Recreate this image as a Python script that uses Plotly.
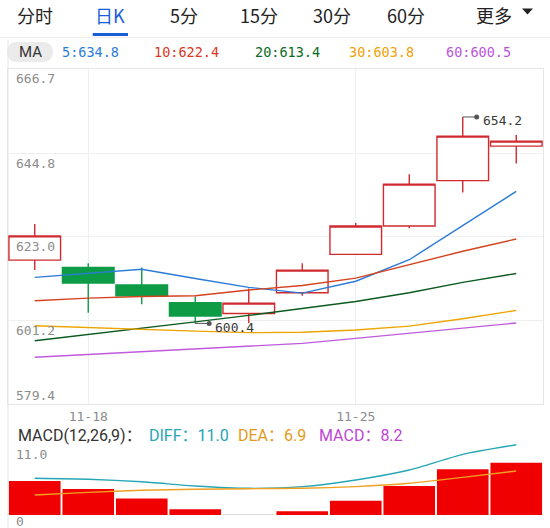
import plotly.graph_objects as go

W, H = 550, 528

# ---------------------------------------------------------------------------
# Data (daily K line, 10 sessions)
# ---------------------------------------------------------------------------
dates = ["11-15", "11-18", "11-19", "11-20", "11-21",
         "11-22", "11-25", "11-26", "11-27", "11-28"]
opens = [616.9, 615.0, 610.4, 605.8, 603.0, 608.4, 618.4, 625.8, 637.6, 646.6]
closes = [623.2, 610.9, 607.6, 602.3, 605.7, 614.3, 625.8, 636.7, 649.2, 647.9]
highs = [626.3, 616.1, 615.0, 607.4, 609.5, 616.1, 626.6, 639.3, 654.2, 649.5]
lows = [614.3, 603.2, 605.4, 600.4, 600.5, 607.6, 618.2, 625.2, 634.5, 642.1]

ma5 = [612.4, 613.5, 614.5, 612.1, 609.8, 608.3, 611.4, 617.0, 626.0, 634.8]
ma10 = [606.3, 607.0, 607.4, 607.6, 609.1, 610.3, 612.2, 615.7, 619.2, 622.4]
ma20 = [595.9, 597.5, 599.2, 600.8, 602.5, 604.3, 606.1, 608.4, 611.1, 613.4]
ma30 = [599.8, 599.3, 598.9, 598.4, 598.0, 598.1, 598.7, 599.7, 601.6, 603.8]
ma60 = [591.6, 592.3, 593.0, 593.7, 594.4, 595.2, 596.5, 597.8, 599.1, 600.5]

diff = [5.75, 5.6, 5.2, 4.55, 4.18, 4.44, 5.49, 7.05, 9.5, 11.0]
dea = [3.13, 3.55, 3.87, 4.03, 4.12, 4.18, 4.44, 4.97, 5.9, 6.9]
macd = [5.33, 4.08, 2.6, 0.9, 0.1, 0.58, 2.24, 4.55, 7.16, 8.2]

y_ticks = [666.7, 644.8, 623.0, 601.2, 579.4]
macd_ticks = [11.0, 0]
x_tick_dates = ["11-18", "11-25"]

tabs = ["分时", "日K", "5分", "15分", "30分", "60分", "更多"]
active_tab = "日K"
ma_periods = [5, 10, 20, 30, 60]
ma_last = [634.8, 622.4, 613.4, 603.8, 600.5]
macd_legend = [("MACD(12,26,9)：", None), ("DIFF", 11.0), ("DEA", 6.9), ("MACD", 8.2)]

# ---------------------------------------------------------------------------
# Style
# ---------------------------------------------------------------------------
RED = "#cf2a30"
GREEN = "#0e9b45"
MA_COLORS = ["#2b7bd6", "#d4421f", "#0b5a1e", "#eea400", "#bf5adf"]
MA_TEXT = ["#2b7ddb", "#d9381e", "#0c6a24", "#f0a20a", "#bb55dd"]
DIFF_C = "#25a6b4"
DEA_C = "#f0a020"
BAR_C = "#f00000"
GRID = "#efefef"
EDGE = "#e6e6e6"
TICK_TXT = "#8c8c8c"
MONO = "DejaVu Sans Mono"
SANS = "Roboto, Noto Sans CJK SC"
CJK = "Noto Sans CJK SC"


def px(x):
    return x / W


def py(y):
    return 1 - y / H


x = list(range(len(dates)))
fig = go.Figure()

fig.add_candlestick(
    x=x, open=opens, high=highs, low=lows, close=closes,
    increasing=dict(line=dict(color=RED, width=1.4), fillcolor="#ffffff"),
    decreasing=dict(line=dict(color=GREEN, width=1.4), fillcolor=GREEN),
    whiskerwidth=0, hoverinfo="skip", showlegend=False,
)

for series, color in zip([ma5, ma10, ma20, ma30, ma60], MA_COLORS):
    fig.add_scatter(x=x, y=series, mode="lines", line=dict(color=color, width=1.4),
                    hoverinfo="skip", showlegend=False)

# max / min markers
hi_i = highs.index(max(highs))
lo_i = lows.index(min(lows))
annotations = []
for i, v in [(hi_i, highs[hi_i]), (lo_i, lows[lo_i])]:
    fig.add_scatter(x=[i, i + 0.26], y=[v, v], mode="lines",
                    line=dict(color="#555555", width=1), hoverinfo="skip", showlegend=False)
    fig.add_scatter(x=[i + 0.26], y=[v], mode="markers",
                    marker=dict(color="#555555", size=5), hoverinfo="skip", showlegend=False)
    annotations.append(dict(x=i + 0.26, y=v, xref="x", yref="y", text=f"{v:.1f}",
                            showarrow=False, xanchor="left", yanchor="middle",
                            xshift=4, yshift=-4, font=dict(family=MONO, size=13, color="#3a3a3a")))

# MACD panel
bar_colors = [BAR_C if abs(v) >= 0.2 else "#dcdcdc" for v in macd]
fig.add_bar(x=x, y=macd, width=0.965, marker=dict(color=bar_colors, line=dict(width=0)),
            xaxis="x2", yaxis="y2", hoverinfo="skip", showlegend=False)
fig.add_scatter(x=x, y=diff, mode="lines", line=dict(color=DIFF_C, width=1.4, shape="spline", smoothing=0.6),
                xaxis="x2", yaxis="y2", hoverinfo="skip", showlegend=False)
fig.add_scatter(x=x, y=dea, mode="lines", line=dict(color=DEA_C, width=1.4, shape="spline", smoothing=0.6),
                xaxis="x2", yaxis="y2", hoverinfo="skip", showlegend=False)

# y tick labels sit just under their gridline (the lowest one just above it)
for v in y_ticks:
    annotations.append(dict(x=px(14), y=v, xref="paper", yref="y", text=f"{v:.1f}",
                            showarrow=False, xanchor="left", yanchor="middle",
                            yshift=9 if v == min(y_ticks) else -10,
                            font=dict(family=MONO, size=13, color=TICK_TXT)))
for v in macd_ticks:
    annotations.append(dict(x=px(14), y=v, xref="paper", yref="y2",
                            text=f"{v:.1f}" if v else "0",
                            showarrow=False, xanchor="left", yanchor="middle",
                            yshift=-10 if v else -6,
                            font=dict(family=MONO, size=13, color=TICK_TXT)))

# tab bar
tab_x = [35, 110, 184, 259, 332, 406, 494]
for t, cx in zip(tabs, tab_x):
    annotations.append(dict(x=px(cx), y=py(14.5), xref="paper", yref="paper", text=t,
                            showarrow=False, xanchor="center", yanchor="middle",
                            font=dict(family=CJK, size=18,
                                      color="#1a5dd6" if t == active_tab else "#222222")))

# MA legend row
annotations.append(dict(x=px(30), y=py(52), xref="paper", yref="paper", text="MA",
                        showarrow=False, xanchor="center", yanchor="middle",
                        font=dict(family="Roboto", size=15, color="#333333")))
ma_x = [90, 186, 287, 381, 478]
for n, v, cx, c in zip(ma_periods, ma_last, ma_x, MA_TEXT):
    annotations.append(dict(x=px(cx), y=py(52), xref="paper", yref="paper", text=f"{n}:{v:.1f}",
                            showarrow=False, xanchor="center", yanchor="middle",
                            font=dict(family=MONO, size=13.5, color=c)))

# MACD legend
leg_x = [16, 147, 236, 317]
leg_c = ["#333333", DIFF_C, "#e39a1a", "#c046d6"]
for (name, val), lx, c in zip(macd_legend, leg_x, leg_c):
    txt = name if val is None else f"{name}：{val:.1f}"
    annotations.append(dict(x=px(lx), y=py(435), xref="paper", yref="paper", text=txt,
                            showarrow=False, xanchor="left", yanchor="middle",
                            font=dict(family=SANS, size=16, color=c)))

shapes = [
    # tab separator + active underline
    dict(type="line", xref="paper", yref="paper", x0=0, x1=1, y0=py(37.5), y1=py(37.5),
         line=dict(color="#ececec", width=1)),
    dict(type="rect", xref="paper", yref="paper", x0=px(92.7), x1=px(128), y0=py(36), y1=py(33),
         fillcolor="#1a5dd6", line=dict(width=0)),
    # dropdown triangle
    dict(type="path", xref="paper", yref="paper", xsizemode="pixel", ysizemode="pixel",
         xanchor=px(527.5), yanchor=py(11.5), path="M -5.5,3 L 5.5,3 L 0,-3 Z",
         fillcolor="#222222", line=dict(width=0)),
    # MA pill
    dict(type="path", xref="paper", yref="paper", xsizemode="pixel", ysizemode="pixel",
         xanchor=px(30), yanchor=py(52),
         path="M -13,-10 L 13,-10 C 19,-10 23,-6 23,0 C 23,6 19,10 13,10 "
              "L -13,10 C -19,10 -23,6 -23,0 C -23,-6 -19,-10 -13,-10 Z",
         fillcolor="#ebebeb", line=dict(width=0), layer="below"),
    # left frame line
    dict(type="line", xref="paper", yref="paper", x0=px(8), x1=px(8), y0=0, y1=py(40),
         line=dict(color=EDGE, width=1), layer="below"),
]

fig.update_layout(
    width=W, height=H, autosize=False,
    margin=dict(l=0, r=0, t=0, b=0),
    paper_bgcolor="#ffffff", plot_bgcolor="#ffffff",
    showlegend=False, hovermode=False,
    boxgap=0.035, boxgroupgap=0,
    annotations=annotations, shapes=shapes,
    xaxis=dict(domain=[px(8), px(543)], range=[-0.5, 9.5], anchor="y",
               tickvals=[dates.index(d) for d in x_tick_dates], ticktext=x_tick_dates,
               showgrid=True, gridcolor=GRID, zeroline=False, ticks="",
               showline=True, linecolor=EDGE, mirror=True,
               tickfont=dict(family=MONO, size=13, color=TICK_TXT),
               rangeslider=dict(visible=False), automargin=False, fixedrange=True),
    yaxis=dict(domain=[py(404), py(69)], range=[579.4, 666.7], anchor="x",
               tickvals=y_ticks, showticklabels=False, showgrid=True, gridcolor=GRID,
               zeroline=False, showline=True, linecolor=EDGE, mirror=True,
               automargin=False, fixedrange=True),
    xaxis2=dict(domain=[px(8), px(543)], range=[-0.5, 9.5], anchor="y2",
                showticklabels=False, showgrid=False, zeroline=False, showline=False,
                automargin=False, fixedrange=True),
    yaxis2=dict(domain=[py(521), py(440)], range=[-0.94, 11.75], anchor="x2",
                showticklabels=False, showgrid=False, zeroline=False, showline=False,
                automargin=False, fixedrange=True),
)

fig.write_html("out.html", config={"displayModeBar": False},
               post_script="document.body.style.margin='0';")
